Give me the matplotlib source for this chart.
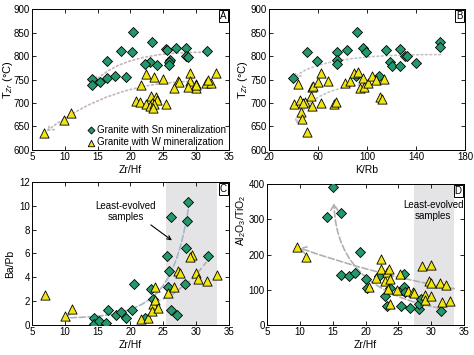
import matplotlib
matplotlib.use("Agg")
import matplotlib.pyplot as plt
from matplotlib.path import Path
from matplotlib.patches import FancyArrowPatch

plt.rcParams['font.family'] = ['Liberation Sans', 'DejaVu Sans']
plt.rcParams['font.size'] = 7
plt.rcParams['mathtext.fontset'] = 'custom'
plt.rcParams['mathtext.rm'] = 'Liberation Sans'
plt.rcParams['mathtext.it'] = 'Liberation Sans:italic'

GREEN = '#23996b'
YELLOW = '#f0e412'

# ---------------- Panel A: T_Zr vs Zr/Hf ----------------
a_sn_x = [20.4, 23.2, 18.6, 20.2, 16.4, 26.9, 28.4, 25.4, 25.6, 26.0, 25.8, 25.9, 28.5, 28.7,
          23.0, 22.2, 24.0, 31.6, 14.2, 14.2, 15.3, 16.4, 17.7, 19.3]
a_sn_y = [851, 830, 810, 808, 790, 818, 818, 815, 812, 792, 787, 780, 800, 798,
          787, 783, 780, 810, 752, 738, 745, 753, 758, 755]
a_w_x = [6.8, 9.8, 10.9, 21.6, 22.4, 23.6, 25.0, 27.2, 27.4, 26.7, 29.0, 29.1, 28.8, 30.0,
         30.0, 29.9, 31.5, 32.2, 33.0, 31.8, 20.8, 21.5, 22.4, 23.1, 23.9, 24.0, 23.3,
         23.0, 23.6, 25.4, 23.4]
a_w_y = [636, 664, 679, 738, 762, 756, 752, 747, 745, 733, 764, 747, 735, 741,
         732, 738, 743, 743, 763, 750, 705, 703, 697, 715, 713, 707, 700,
         693, 697, 697, 690]

# ---------------- Panel B: T_Zr vs K/Rb ----------------
b_sn_x = [39.9, 50.7, 58.9, 75.2, 75.2, 75.2, 83.4, 92.1, 97.0, 99.0, 91.0, 110.0, 115.2,
          119.0, 120.5, 127.0, 127.0, 131.0, 132.5, 139.7, 159.6, 159.6]
b_sn_y = [753, 808, 790, 808, 792, 783, 813, 851, 817, 808, 757, 758, 812,
          788, 779, 815, 779, 801, 800, 786, 830, 819]
b_w_x = [40.4, 44.0, 45.3, 45.8, 46.7, 49.4, 51.3, 54.0, 55.0, 56.0, 55.4, 60.3, 62.4,
         62.4, 68.4, 73.0, 74.4, 82.3, 86.0, 89.4, 93.0, 94.3, 96.5, 97.5, 101.0, 103.8,
         107.3, 110.6, 112.0, 114.0, 47.5]
b_w_y = [698, 740, 706, 680, 665, 703, 638, 715, 735, 737, 693, 745, 763,
         700, 747, 697, 703, 743, 747, 764, 765, 733, 753, 735, 743, 757,
         748, 713, 708, 752, 700]

# ---------------- Panel C: Ba/Pb vs Zr/Hf ----------------
c_sn_x = [14.4, 14.5, 15.2, 16.6, 16.3, 17.8, 18.6, 19.3, 20.2, 20.6, 22.2, 23.1, 23.5,
          25.6, 25.7, 25.9, 26.2, 26.2, 27.1, 28.6, 28.8, 28.5, 28.3, 31.8]
c_sn_y = [0.6, 0.1, 0.3, 1.3, 0.15, 0.8, 1.05, 0.6, 1.25, 3.45, 0.6, 3.0, 2.2,
          5.75, 3.2, 4.55, 9.1, 1.3, 0.85, 8.7, 10.35, 6.5, 3.4, 5.75]
c_w_x = [7.0, 10.1, 11.1, 21.6, 22.6, 23.4, 23.3, 23.8, 23.8, 24.2, 25.7, 27.2, 27.5,
         26.7, 29.3, 29.0, 29.9, 30.3, 31.6, 33.1]
c_w_y = [2.5, 0.75, 1.35, 0.5, 0.6, 1.8, 1.2, 3.2, 2.1, 1.4, 2.65, 4.5, 4.4,
         3.2, 5.9, 5.7, 4.35, 3.9, 3.65, 4.2]

# ---------------- Panel D: Al2O3/TiO2 vs Zr/Hf ----------------
d_sn_x = [15.1, 14.1, 16.2, 16.3, 17.5, 18.4, 19.2, 20.1, 20.3, 22.1, 22.9, 23.2, 23.8,
          25.4, 25.5, 25.8, 25.8, 26.0, 26.8, 28.1, 28.2, 28.4, 31.5]
d_sn_y = [392, 307, 319, 142, 138, 147, 206, 130, 104, 138, 82, 55, 104,
          55, 100, 108, 144, 95, 49, 45, 61, 75, 41]
d_w_x = [9.6, 10.9, 20.6, 21.6, 22.4, 22.4, 23.0, 23.3, 23.6, 23.7, 23.8, 23.5, 24.8,
         25.3, 26.5, 27.2, 27.4, 28.6, 29.0, 29.1, 29.7, 29.9, 30.0, 30.0, 31.4, 31.6,
         32.2, 32.8]
d_w_y = [222, 192, 107, 134, 186, 158, 125, 151, 160, 130, 61, 102, 99,
         144, 96, 94, 90, 168, 86, 71, 125, 118, 170, 83, 118, 66,
         113, 69]

shade_c = [25.35, 33.2]
shade_d = [27.4, 33.5]

# figure -------------------------------------------------
fig = plt.figure(figsize=(4.74, 3.55), dpi=100)
axA = fig.add_axes([0.0675, 0.5775, 0.4156, 0.397])
axB = fig.add_axes([0.5675, 0.5775, 0.4135, 0.397])
axC = fig.add_axes([0.0675, 0.0845, 0.4156, 0.403])
axD = fig.add_axes([0.5633, 0.0845, 0.4156, 0.397])

dkw = dict(marker='D', s=26, c=GREEN, edgecolors='k', linewidths=0.6, zorder=3)
tkw = dict(marker='^', s=44, c=YELLOW, edgecolors='k', linewidths=0.6, zorder=3)


def style(ax, label, ylab_x, ylab_y=0.5):
    ax.tick_params(direction='in', top=True, right=True, length=3, width=0.6,
                   labelsize=7, pad=1.5)
    for s in ax.spines.values():
        s.set_linewidth(0.7)
    ax.yaxis.set_label_coords(ylab_x, ylab_y)
    ax.xaxis.set_label_coords(0.5, -0.105)
    ax.text(0.988, 0.985, label, transform=ax.transAxes, ha='right', va='top',
            fontsize=7, zorder=6,
            bbox=dict(boxstyle='square,pad=0.1', fc='white', ec='k', lw=0.7))


def curve(ax, pts, codes, color, ls, lw=1.2):
    p = FancyArrowPatch(path=Path(pts, codes), arrowstyle='->,head_length=4,head_width=2.5',
                        color=color, linestyle=ls, lw=lw, zorder=2,
                        shrinkA=0, shrinkB=0)
    ax.add_patch(p)

M, C3, C4 = Path.MOVETO, Path.CURVE3, Path.CURVE4

# A
axA.scatter(a_sn_x, a_sn_y, label='Granite with Sn mineralization', **dkw)
axA.scatter(a_w_x, a_w_y, label='Granite with W mineralization', **tkw)
curve(axA, [(31.3, 808), (19, 810), (14.5, 745)], [M, C3, C3], '#c4b4b8', ':')
curve(axA, [(29.5, 746), (17, 745), (7.2, 640)], [M, C3, C3], '#c4b4b8', ':')
axA.set_xlim(5, 35)
axA.set_ylim(600, 900)
axA.set_xticks(range(5, 36, 5))
axA.set_yticks(range(600, 901, 50))
axA.set_xlabel('Zr/Hf', fontsize=7.5)
axA.set_ylabel('T$_{Zr}$ (°C)', fontsize=8)
axA.legend(loc='lower right', frameon=False, fontsize=7, handletextpad=0.1,
           labelspacing=0.25, borderaxespad=0.1, handlelength=1.0, borderpad=0.2,
           markerscale=0.7)
style(axA, 'A', -0.085)

# B
axB.scatter(b_sn_x, b_sn_y, **dkw)
axB.scatter(b_w_x, b_w_y, **tkw)
curve(axB, [(160, 803), (60, 805), (40, 752)], [M, C3, C3], '#c4c4c8', ':')
curve(axB, [(112, 740), (55, 742), (42, 655)], [M, C3, C3], '#c4c4c8', ':')
axB.set_xlim(20, 180)
axB.set_ylim(600, 900)
axB.set_xticks(range(20, 181, 40))
axB.set_yticks(range(600, 901, 50))
axB.set_xlabel('K/Rb', fontsize=7.5)
axB.set_ylabel('T$_{Zr}$ (°C)', fontsize=8)
style(axB, 'B', -0.097)

# C
axC.axvspan(shade_c[0], shade_c[1], color='#e4e4e6', lw=0, zorder=0)
axC.scatter(c_sn_x, c_sn_y, **dkw)
axC.scatter(c_w_x, c_w_y, **tkw)
curve(axC, [(28.8, 9.7), (26.5, 2.2), (23, 0.7), (9.7, 0.6)], [M, C4, C4, C4], '#a8b4c8', '--')
axC.plot([23.7, 26.5, 29.5, 31.6], [1.85, 2.6, 3.9, 5.3], ls='--', color='#b0b0b0', lw=1.2, zorder=2)
axC.annotate('Least-evolved\nsamples', xy=(26.3, 7.1), xytext=(19.3, 9.5),
             ha='center', va='center', fontsize=7, linespacing=1.1,
             arrowprops=dict(arrowstyle='->,head_length=0.4,head_width=0.2', color='k', lw=0.8,
                             shrinkA=0, shrinkB=0, relpos=(0.85, 0.0)))
axC.set_xlim(5, 35)
axC.set_ylim(0, 12)
axC.set_xticks(range(5, 36, 5))
axC.set_yticks(range(0, 13, 2))
axC.set_xlabel('Zr/Hf', fontsize=7.5)
axC.set_ylabel('Ba/Pb', fontsize=7.5)
style(axC, 'C', -0.086, 0.43)

# D
axD.axvspan(shade_d[0], shade_d[1], color='#e4e4e6', lw=0, zorder=0)
axD.scatter(d_sn_x, d_sn_y, **dkw)
axD.scatter(d_w_x, d_w_y, **tkw)
curve(axD, [(33.5, 103), (21.7, 141), (9.9, 219)], [M, C3, C3], '#b0b0b0', '--')
curve(axD, [(31.3, 48), (22, 80), (15.5, 160), (15.2, 346)], [M, C4, C4, C4], '#b0b0b0', '--')
axD.text(30.3, 325, 'Least-evolved\nsamples', ha='center', va='center', fontsize=7,
         linespacing=1.1, zorder=5)
axD.set_xlim(5, 35)
axD.set_ylim(0, 400)
axD.set_xticks(range(5, 36, 5))
axD.set_yticks(range(0, 401, 100))
axD.set_xlabel('Zr/Hf', fontsize=7.5)
axD.set_ylabel('Al$_2$O$_3$/TiO$_2$', fontsize=7.5)
style(axD, 'D', -0.095, 0.74)

fig.savefig('out.png', dpi=100)
